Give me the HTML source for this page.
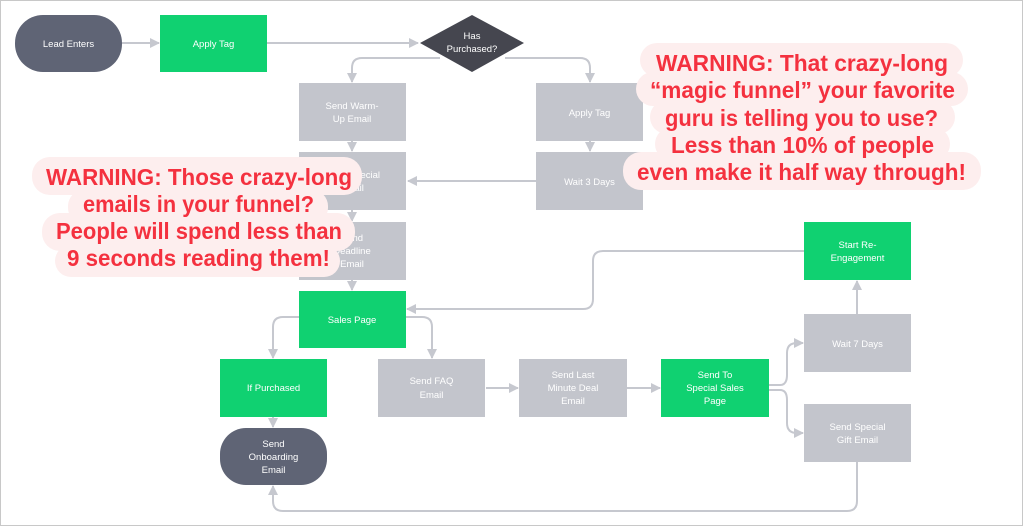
<!DOCTYPE html>
<html><head><meta charset="utf-8"><style>
html,body{margin:0;padding:0;background:#fff}
svg{display:block}
.t{font-family:"Liberation Sans",sans-serif;font-size:9.5px;fill:#fff;text-anchor:middle}
.w{font-family:"Liberation Sans",sans-serif;font-size:23px;font-weight:bold;fill:#f4313f}
.ln{fill:none;stroke:#c6c8cf;stroke-width:2}
</style></head><body>
<svg width="1024" height="527" viewBox="0 0 1024 527" xmlns="http://www.w3.org/2000/svg">
<defs><marker id="a" viewBox="0 0 10 10" refX="9" refY="5" markerWidth="5" markerHeight="5" orient="auto"><path d="M0,0L10,5L0,10z" fill="#c6c8cf"/></marker></defs>
<rect x="0.5" y="0.5" width="1022" height="525" fill="#fff" stroke="#c8c8c8"/>
<g class="ln" marker-end="url(#a)">
<path d="M122,43H159"/>
<path d="M267,43H418"/>
<path d="M440,58H362Q352,58 352,68V82"/>
<path d="M505,58H580Q590,58 590,68V82"/>
<path d="M352,141V151"/>
<path d="M352,210V221"/>
<path d="M352,280V290"/>
<path d="M590,141V151"/>
<path d="M536,181H408"/>
<path d="M804,251H603Q593,251 593,261V299Q593,309 583,309H407"/>
<path d="M299,317H283Q273,317 273,327V358"/>
<path d="M406,317H422Q432,317 432,327V358"/>
<path d="M273,417V427"/>
<path d="M486,388H518"/>
<path d="M627,388H660"/>
<path d="M769,385H780Q787,385 787,375V353Q787,343 797,343H803"/>
<path d="M769,390H780Q787,390 787,400V423Q787,433 797,433H803"/>
<path d="M857,314V281"/>
<path d="M857,462V501Q857,511 847,511H283Q273,511 273,501V486"/>
</g>
<rect x="15" y="15" width="107" height="57" rx="28" fill="#5f6475"/>
<text class="t" x="68.5" y="47">Lead Enters</text>
<rect x="160" y="15" width="107" height="57" fill="#10d171"/>
<text class="t" x="213.5" y="47">Apply Tag</text>
<polygon points="420,43 472,15 524,43 472,72" fill="#45464f"/>
<text class="t" x="472" y="39">Has</text><text class="t" x="472" y="52">Purchased?</text>
<rect x="299" y="83" width="107" height="58" fill="#c3c5cc"/>
<text class="t" x="352" y="109">Send Warm-</text><text class="t" x="352" y="122">Up Email</text>
<rect x="299" y="152" width="107" height="58" fill="#c3c5cc"/>
<text class="t" x="352" y="178">Send Special</text><text class="t" x="352" y="191">Email</text>
<rect x="299" y="222" width="107" height="58" fill="#c3c5cc"/>
<text class="t" x="352" y="241">Send</text><text class="t" x="352" y="254">Deadline</text><text class="t" x="352" y="267">Email</text>
<rect x="299" y="291" width="107" height="57" fill="#10d171"/>
<text class="t" x="352" y="323">Sales Page</text>
<rect x="536" y="83" width="107" height="58" fill="#c3c5cc"/>
<text class="t" x="589.5" y="116">Apply Tag</text>
<rect x="536" y="152" width="107" height="58" fill="#c3c5cc"/>
<text class="t" x="589.5" y="185">Wait 3 Days</text>
<rect x="220" y="359" width="107" height="58" fill="#10d171"/>
<text class="t" x="273.5" y="391">If Purchased</text>
<rect x="220" y="428" width="107" height="57" rx="26" fill="#5f6475"/>
<text class="t" x="273.5" y="447">Send</text><text class="t" x="273.5" y="460">Onboarding</text><text class="t" x="273.5" y="473">Email</text>
<rect x="378" y="359" width="107" height="58" fill="#c3c5cc"/>
<text class="t" x="431.5" y="384">Send FAQ</text><text class="t" x="431.5" y="398">Email</text>
<rect x="519" y="359" width="108" height="58" fill="#c3c5cc"/>
<text class="t" x="573" y="378">Send Last</text><text class="t" x="573" y="391">Minute Deal</text><text class="t" x="573" y="404">Email</text>
<rect x="661" y="359" width="108" height="58" fill="#10d171"/>
<text class="t" x="715" y="378">Send To</text><text class="t" x="715" y="391">Special Sales</text><text class="t" x="715" y="404">Page</text>
<rect x="804" y="222" width="107" height="58" fill="#10d171"/>
<text class="t" x="857.5" y="248">Start Re-</text><text class="t" x="857.5" y="261">Engagement</text>
<rect x="804" y="314" width="107" height="58" fill="#c3c5cc"/>
<text class="t" x="857.5" y="347">Wait 7 Days</text>
<rect x="804" y="404" width="107" height="58" fill="#c3c5cc"/>
<text class="t" x="857.5" y="430">Send Special</text><text class="t" x="857.5" y="443">Gift Email</text>
<g fill="#fdeeee">
<rect x="32" y="157" width="330" height="38" rx="18"/>
<rect x="68" y="190" width="260" height="34" rx="16"/>
<rect x="42" y="213" width="313" height="38" rx="18"/>
<rect x="55" y="245" width="285" height="32" rx="16"/>
</g>
<text class="w" x="46" y="185" textLength="306" lengthAdjust="spacingAndGlyphs">WARNING: Those crazy-long</text>
<text class="w" x="83" y="212" textLength="231" lengthAdjust="spacingAndGlyphs">emails in your funnel?</text>
<text class="w" x="56" y="239" textLength="286" lengthAdjust="spacingAndGlyphs">People will spend less than</text>
<text class="w" x="67" y="266" textLength="263" lengthAdjust="spacingAndGlyphs">9 seconds reading them!</text>
<g fill="#fdeeee">
<rect x="640" y="43" width="323" height="34" rx="17"/>
<rect x="636" y="72" width="332" height="34" rx="17"/>
<rect x="650" y="100" width="305" height="34" rx="17"/>
<rect x="655" y="127" width="295" height="34" rx="17"/>
<rect x="623" y="152" width="358" height="38" rx="18"/>
</g>
<text class="w" x="656" y="71" textLength="292" lengthAdjust="spacingAndGlyphs">WARNING: That crazy-long</text>
<text class="w" x="650" y="98" textLength="305" lengthAdjust="spacingAndGlyphs">“magic funnel” your favorite</text>
<text class="w" x="665" y="126" textLength="273" lengthAdjust="spacingAndGlyphs">guru is telling you to use?</text>
<text class="w" x="671" y="153" textLength="263" lengthAdjust="spacingAndGlyphs">Less than 10% of people</text>
<text class="w" x="637" y="180" textLength="329" lengthAdjust="spacingAndGlyphs">even make it half way through!</text>
</svg>
</body></html>
